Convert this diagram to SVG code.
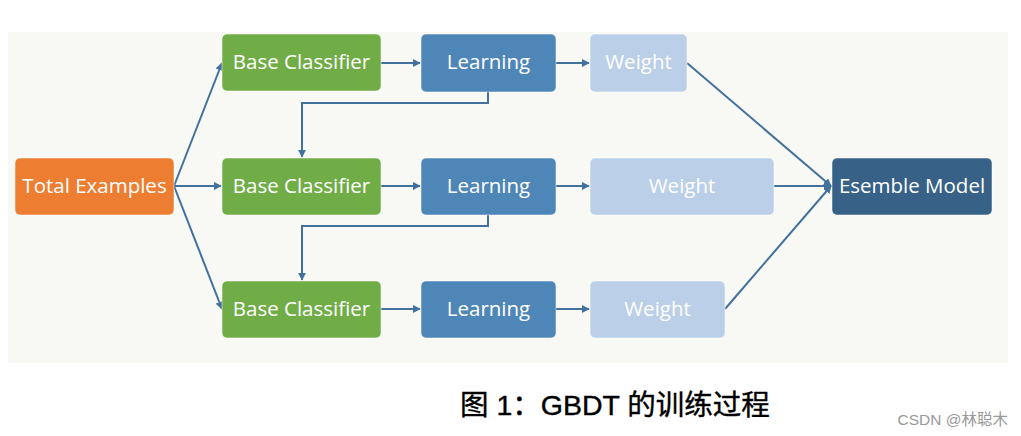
<svg xmlns="http://www.w3.org/2000/svg" width="1021" height="436" viewBox="0 0 1021 436">
<defs>
<marker id="ah" viewBox="0 0 10 10" refX="9" refY="5" markerWidth="8" markerHeight="8" markerUnits="userSpaceOnUse" orient="auto"><path d="M0,0 L10,5 L0,10 z" fill="#41719c"/></marker>
<style>
.n rect{stroke:#ffffff;stroke-opacity:0.5;stroke-width:1}
.n text{font-family:"Open Sans","Noto Sans","DejaVu Sans",sans-serif;font-size:20.5px;fill:#ffffff;text-anchor:middle;dominant-baseline:central}
.c path{fill:none;stroke:#41719c;stroke-width:2;marker-end:url(#ah)}
.bc{fill:#70ad47}.ln{fill:#4f86b8}.wt{fill:#bbcfe8}
</style>
</defs>
<rect x="0" y="0" width="1021" height="436" fill="#ffffff"/>
<rect x="8" y="32" width="1000" height="331" fill="#f8f8f5"/>
<g class="c" id="connectors">
<path d="M174,186 L222,63"/>
<path d="M174,186 L221,186"/>
<path d="M174,186 L222,309"/>
<path d="M381,63 L420,63"/>
<path d="M381,186 L420,186"/>
<path d="M381,309 L420,309"/>
<path d="M556,63 L589,63"/>
<path d="M556,186 L589,186"/>
<path d="M556,309 L589,309"/>
<path d="M488,92 V103 H302 V157"/>
<path d="M488,215 V226 H302 V280"/>
<path d="M687,63 L831,186"/>
<path d="M774,186 L831,186"/>
<path d="M725,309 L831,186"/>
</g>
<g class="n" id="total"><rect x="15" y="158" width="159" height="57" rx="5" fill="#ed7d31"/><text x="94.5" y="185">Total Examples</text></g>
<g class="n" id="bc1"><rect x="222" y="34" width="159" height="57" rx="5" class="bc"/><text x="301.5" y="61">Base Classifier</text></g>
<g class="n" id="bc2"><rect x="222" y="158" width="159" height="57" rx="5" class="bc"/><text x="301.5" y="185">Base Classifier</text></g>
<g class="n" id="bc3"><rect x="222" y="281" width="159" height="57" rx="5" class="bc"/><text x="301.5" y="308">Base Classifier</text></g>
<g class="n" id="ln1"><rect x="421" y="34" width="135" height="58" rx="5" class="ln"/><text x="488.5" y="61">Learning</text></g>
<g class="n" id="ln2"><rect x="421" y="158" width="135" height="57" rx="5" class="ln"/><text x="488.5" y="185">Learning</text></g>
<g class="n" id="ln3"><rect x="421" y="281" width="135" height="57" rx="5" class="ln"/><text x="488.5" y="308">Learning</text></g>
<g class="n" id="wt1"><rect x="590" y="34" width="97" height="58" rx="5" class="wt"/><text x="638.5" y="61">Weight</text></g>
<g class="n" id="wt2"><rect x="590" y="158" width="184" height="57" rx="5" class="wt"/><text x="682" y="185">Weight</text></g>
<g class="n" id="wt3"><rect x="590" y="281" width="135" height="57" rx="5" class="wt"/><text x="657.5" y="308">Weight</text></g>
<g class="n" id="ens"><rect x="832" y="158" width="160" height="57" rx="5" fill="#376187"/><text x="912" y="185">Esemble Model</text></g>
<text x="460" y="415" font-family="'Liberation Sans','Noto Sans CJK SC',sans-serif" font-size="28.5" fill="#000000" stroke="#000000" stroke-width="0.4">图 1：GBDT 的训练过程</text>
<text x="1008" y="425" font-family="'Liberation Sans','Noto Sans CJK SC',sans-serif" font-size="15.5" fill="#999999" text-anchor="end">CSDN @林聪木</text>
</svg>
